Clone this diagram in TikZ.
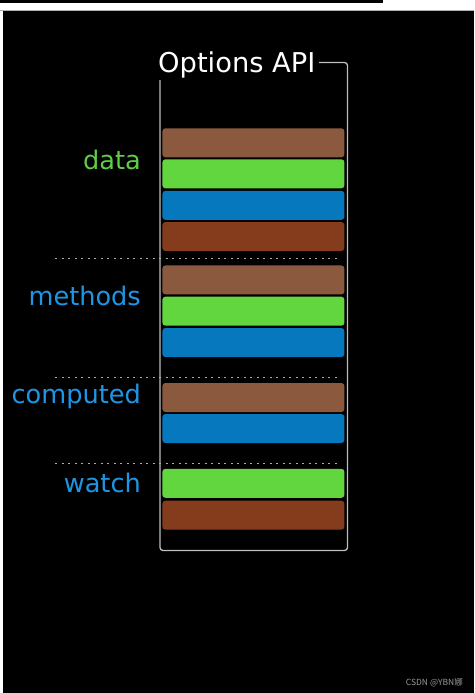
\documentclass[tikz,border=0pt]{standalone}
\usepackage{fontspec}
\setmainfont{DejaVu Sans}
\newfontfamily\cjk{Noto Sans CJK SC}
\usepackage{xcolor}
\definecolor{lbrown}{RGB}{139,90,62}
\definecolor{dbrown}{RGB}{133,60,28}
\definecolor{bgreen}{RGB}{98,214,62}
\definecolor{bblue}{RGB}{6,120,190}
\definecolor{tgreen}{RGB}{95,205,70}
\definecolor{tblue}{RGB}{30,150,230}
\definecolor{framecol}{RGB}{190,190,190}
\tikzset{
  bar/.style={rounded corners=3pt, minimum width=182pt, minimum height=29pt, inner sep=0pt},
  lab/.style={anchor=base east, inner sep=0pt, font=\fontsize{25.6}{30}\selectfont},
  sep/.style={gray!65, line width=1pt, dash pattern=on 2pt off 4.5pt}
}

\begin{document}
\begin{tikzpicture}[x=1pt,y=-1pt]
\useasboundingbox (0,0) rectangle (474,693);
% background
\fill[white] (0,0) rectangle (474,693);
\fill[black] (0,0) rectangle (383,3);
\fill[black] (2.5,11) rectangle (474,693);
\draw[gray!60, line width=0.8pt] (0,10.5)--(474,10.5);
% title and frame
\node[anchor=base west, inner sep=0pt, text=white, font=\fontsize{27.3}{32}\selectfont] (title) at (158,73) {Options API};
\draw[framecol, line width=1.3pt, rounded corners=3pt] (160,80)--(160,550.5)--(347.5,550.5)--(347.5,62.5)--(319,62.5);
% data
\node[bar, fill=lbrown] (d1) at (253.4,142.8) {};
\node[bar, fill=bgreen] (d2) at (253.4,173.8) {};
\node[bar, fill=bblue] (d3) at (253.4,205.3) {};
\node[bar, fill=dbrown] (d4) at (253.4,236.5) {};
\node[lab, text=tgreen] (data) at (141,169.5) {data};
\coordinate (s1a) at (55,258);
\coordinate (s1b) at (340,258);
\draw[sep] (s1a)--(s1b);
% methods
\node[bar, fill=lbrown] (m1) at (253.4,279.9) {};
\node[bar, fill=bgreen] (m2) at (253.4,311.2) {};
\node[bar, fill=bblue] (m3) at (253.4,342.5) {};
\node[lab, text=tblue] (methods) at (141,305.5) {methods};
\coordinate (s2a) at (55,377);
\coordinate (s2b) at (340,377);
\draw[sep] (s2a)--(s2b);
% computed
\node[bar, fill=lbrown] (c1) at (253.4,397.5) {};
\node[bar, fill=bblue] (c2) at (253.4,428.5) {};
\node[lab, text=tblue] (computed) at (141,403.5) {computed};
\coordinate (s3a) at (55,463);
\coordinate (s3b) at (340,463);
\draw[sep] (s3a)--(s3b);
% watch
\node[bar, fill=bgreen] (w1) at (253.4,483.3) {};
\node[bar, fill=dbrown] (w2) at (253.4,515.2) {};
\node[lab, text=tblue] (watch) at (141,492) {watch};
% watermark
\node[anchor=base east, inner sep=0pt, text=gray!80, font=\cjk\fontsize{8.5}{10}\selectfont] (mark) at (463,685.5) {CSDN @YBN娜};
\end{tikzpicture}
\end{document}
